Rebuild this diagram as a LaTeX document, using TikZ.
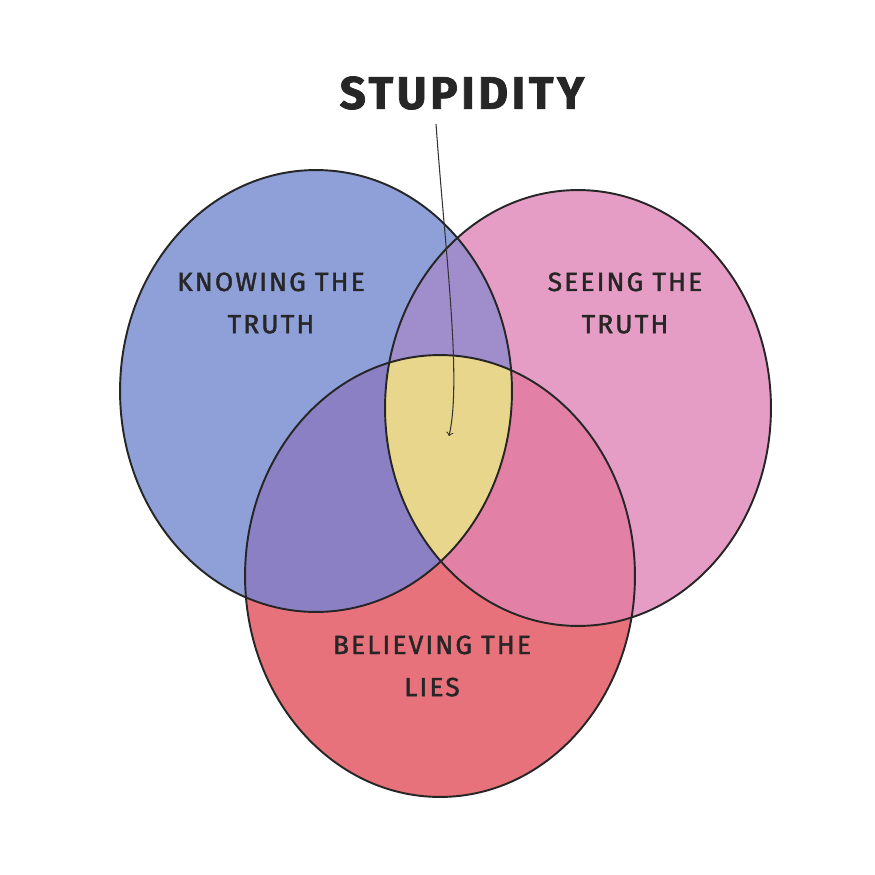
\documentclass[tikz,border=0pt]{standalone}
\usepackage{fontspec}
\setmainfont{Fira Sans}
\newfontfamily\handfont[LetterSpace=8,FakeBold=1.6]{Fira Sans}
\begin{document}
\begin{tikzpicture}[x=0.02cm,y=-0.02cm,
  lab/.style={font=\handfont\fontsize{15}{24}\selectfont, align=center, text=black!85},
  edge/.style={draw=black!85, line width=1.1pt}]
\useasboundingbox (0,0) rectangle (875,875);
\fill[white] (0,0) rectangle (875,875);
\def\B{(316,391) ellipse [x radius=3.92cm, y radius=4.42cm]}
\def\P{(578,408) ellipse [x radius=3.86cm, y radius=4.36cm]}
\def\R{(440,576) ellipse [x radius=3.9cm, y radius=4.42cm]}
\fill[color={rgb,255:red,143;green,160;blue,216}] \B;
\fill[color={rgb,255:red,229;green,157;blue,198}] \P;
\fill[color={rgb,255:red,232;green,114;blue,124}] \R;
\begin{scope}\clip \B; \fill[color={rgb,255:red,160;green,142;blue,204}] \P; \end{scope}
\begin{scope}\clip \B; \fill[color={rgb,255:red,140;green,128;blue,196}] \R; \end{scope}
\begin{scope}\clip \P; \fill[color={rgb,255:red,226;green,128;blue,166}] \R; \end{scope}
\begin{scope}\clip \B; \clip \P; \fill[color={rgb,255:red,232;green,214;blue,140}] \R; \end{scope}
\draw[edge] \B; \draw[edge] \P; \draw[edge] \R;
\node[lab] (k) at (271,303) {KNOWING THE\\TRUTH};
\node[lab] (s) at (625,303) {SEEING THE\\TRUTH};
\node[lab] (b) at (432,666) {BELIEVING THE\\LIES};
\node[font=\handfont\fontsize{26}{30}\selectfont\bfseries, text=black!85] (st) at (462,93) {STUPIDITY};
\coordinate (tip) at (449,436);
\draw[black!80, line width=0.6pt, ->] (436,124) .. controls (445,250) and (462,380) .. (tip);
\end{tikzpicture}
\end{document}
